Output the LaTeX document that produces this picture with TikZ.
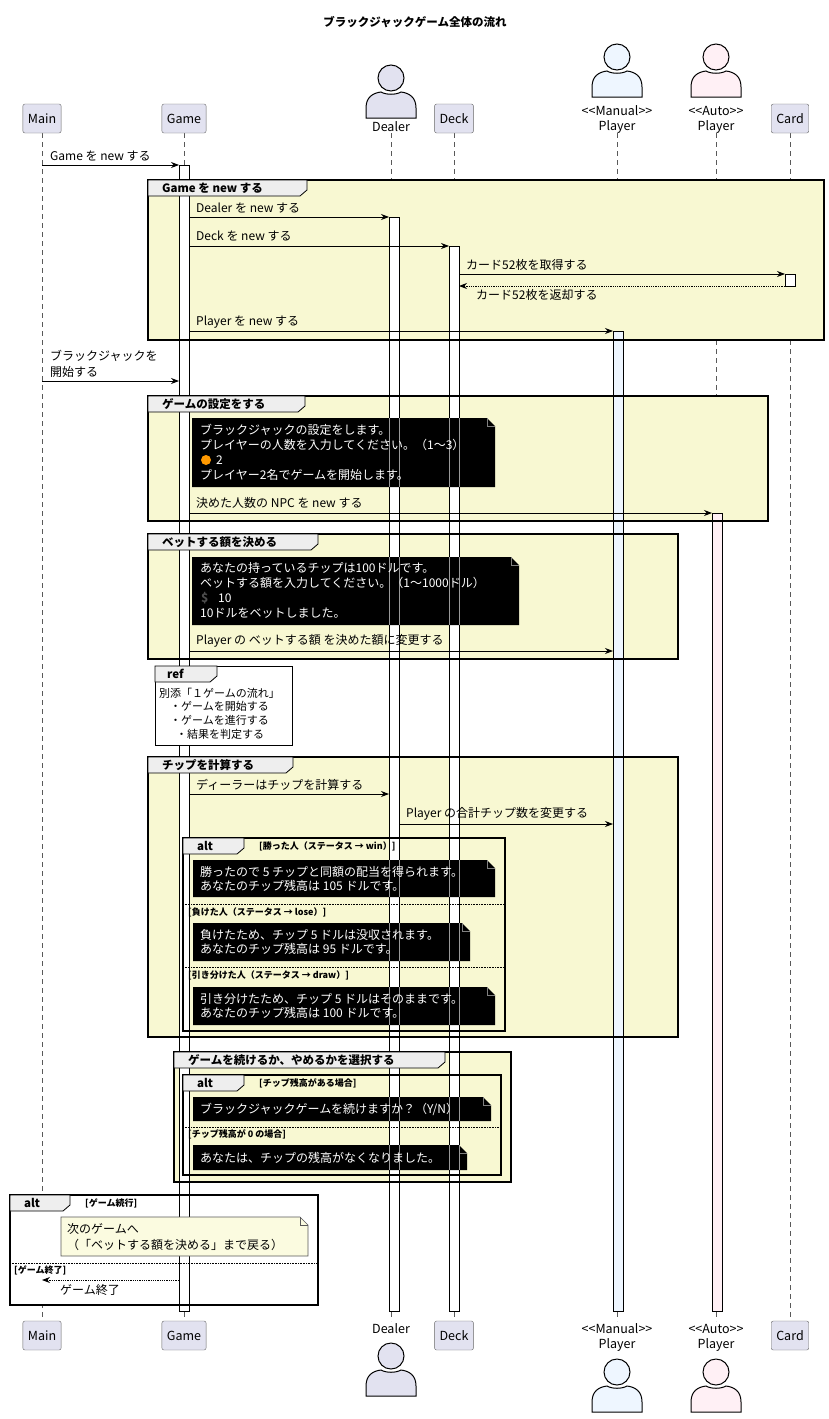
\documentclass[tikz,border=0pt]{standalone}
\usepackage{fontspec}
\setmainfont{Noto Sans CJK JP}
\usetikzlibrary{arrows.meta}
\definecolor{pbox}{HTML}{E2E2F0}
\definecolor{frm}{HTML}{F8F8D2}
\definecolor{tab}{HTML}{EEEEEE}
\definecolor{mblue}{HTML}{EEF6FF}
\definecolor{apink}{HTML}{FFF0F5}
\definecolor{nyel}{HTML}{FBFBE0}
\newcommand\bnote[4]{\fill[black] (#1,#2) -- (#3-8,#2) -- (#3,#2+8) -- (#3,#4) -- (#1,#4) -- cycle;
  \draw[gray,line width=.4pt] (#3-8,#2) -- (#3-8,#2+8) -- (#3,#2+8);}
\newcommand\frbg[5]{\fill[#5] (#1,#2) rectangle (#3,#4);}
\newcommand\frfg[6]{% x1 y1 x2 y2 tabx2 label
  \draw[line width=1.3pt] (#1,#2) rectangle (#3,#4);
  \draw[line width=.8pt,fill=tab] (#1,#2) -- (#5,#2) -- (#5,#2+10) -- (#5-7,#2+16) -- (#1,#2+16) -- cycle;
  \node[anchor=west,font=\bfseries\fontsize{11.5}{13}\selectfont,inner sep=0] at (#1+14,#2+8) {#6};}
\newcommand\guard[3]{\node[anchor=west,font=\bfseries\fontsize{9}{10}\selectfont,inner sep=0] at (#1,#2) {#3};}
\tikzset{msg/.style={-{Stealth[length=8pt,width=6pt]},line width=.8pt},
 ret/.style={msg,densely dotted},
 lbl/.style={anchor=west,inner sep=0,font=\fontsize{12}{14}\selectfont},
 wt/.style={lbl,text=white},
 pb/.style={draw=gray!80!black,fill=pbox,rounded corners=2pt,minimum height=29pt,inner xsep=5pt,font=\fontsize{12.5}{14}\selectfont},
 act/.style={draw,fill=white,line width=.7pt},
 ll/.style={gray!70!black,dash pattern=on 5pt off 4pt,line width=.6pt}}
\newcommand\actor[3]{% x headcy fill
  \draw[line width=1pt,fill=#3] (#1,#2) circle (13pt);
  \draw[line width=1pt,fill=#3] (#1-25,#2+40) -- (#1-25,#2+30) .. controls (#1-25,#2+19) and (#1-18,#2+15) .. (#1-10,#2+14) .. controls (#1-5,#2+17) and (#1+5,#2+17) .. (#1+10,#2+14) .. controls (#1+18,#2+15) and (#1+25,#2+19) .. (#1+25,#2+30) -- (#1+25,#2+40) -- cycle;}
\begin{document}
\begin{tikzpicture}[x=1pt,y=-1pt]
\useasboundingbox[fill=white] (0,0) rectangle (829,1419);
\node[font=\bfseries\fontsize{11.5}{13}\selectfont] (title) at (415,22) {ブラックジャックゲーム全体の流れ};
% lifelines
\foreach \x in {42,184,391,454,617,716,790} \draw[ll] (\x,133) -- (\x,1321);
% frame backgrounds
\frbg{148}{180}{824}{340}{frm}
\frbg{148}{396}{768}{521}{frm}
\frbg{148}{534}{678}{659}{frm}
\frbg{148}{757}{678}{1037}{frm}
\frbg{174}{1052}{511}{1182}{frm}
\frbg{10}{1195}{318}{1305}{white}
% activation bars
\draw[act] (179,165) rectangle (189,1311);
\draw[act] (389,217) rectangle (399,1311);
\draw[act] (449,246) rectangle (459,1311);
\draw[act] (785,274) rectangle (795,286);
\draw[act,fill=mblue] (613,331) rectangle (623,1311);
\draw[act,fill=apink] (712,513) rectangle (722,1311);
% notes
\bnote{192}{418}{495}{487}
\bnote{192}{557}{519}{625}
\bnote{193}{860}{495}{897}
\bnote{193}{923}{470}{961}
\bnote{193}{987}{495}{1025}
\bnote{193}{1097}{491}{1121}
\bnote{193}{1145}{467}{1170}
% bar outlines over notes
\foreach \a/\b in {418/487,557/625,860/897,923/961,987/1025,1097/1121,1145/1170}{
  \draw[gray!80,line width=.7pt] (389,\a) -- (389,\b) (399,\a) -- (399,\b) (449,\a) -- (449,\b) (459,\a) -- (459,\b);}
\node[wt] at (200,430) {ブラックジャックの設定をします。};
\node[wt] at (200,445) {プレイヤーの人数を入力してください。（1〜3）};
\fill[orange!80!yellow] (206,460) circle (5pt);
\node[wt] at (216,460) {2};
\node[wt] at (200,475) {プレイヤー2名でゲームを開始します。};
\node[wt] at (200,568) {あなたの持っているチップは100ドルです。};
\node[wt] at (200,583) {ベットする額を入力してください。（1〜1000ドル）};
\node[lbl,text=gray!60!black,font=\bfseries\fontsize{12}{14}\selectfont] at (201,598) {\$};
\node[wt] at (218,598) {10};
\node[wt] at (200,613) {10ドルをベットしました。};
\node[wt] at (200,872) {勝ったので 5 チップと同額の配当を得られます。};
\node[wt] at (200,886) {あなたのチップ残高は 105 ドルです。};
\node[wt] at (200,935) {負けたため、チップ 5 ドルは没収されます。};
\node[wt] at (200,949) {あなたのチップ残高は 95 ドルです。};
\node[wt] at (200,999) {引き分けたため、チップ 5 ドルはそのままです。};
\node[wt] at (200,1013) {あなたのチップ残高は 100 ドルです。};
\node[wt] at (200,1109) {ブラックジャックゲームを続けますか？（Y/N）};
\node[wt] at (200,1158) {あなたは、チップの残高がなくなりました。};
% frame borders and tabs
\frfg{148}{180}{824}{340}{307}{Game を new する}
\frfg{148}{396}{768}{521}{305}{ゲームの設定をする}
\frfg{148}{534}{678}{659}{318}{ベットする額を決める}
\frfg{148}{757}{678}{1037}{293}{チップを計算する}
\frfg{183}{838}{505}{1031}{244}{alt}
\frfg{174}{1052}{511}{1182}{445}{ゲームを続けるか、やめるかを選択する}
\frfg{183}{1075}{501}{1175}{244}{alt}
\frfg{10}{1195}{318}{1305}{70}{alt}
% guards & separators
\guard{259}{846}{[勝った人（ステータス → win）]}
\draw[densely dotted,line width=.6pt] (183,904) -- (505,904);
\guard{188}{912}{[負けた人（ステータス → lose）]}
\draw[densely dotted,line width=.6pt] (183,967) -- (505,967);
\guard{188}{975}{[引き分けた人（ステータス → draw）]}
\guard{259}{1083}{[チップ残高がある場合]}
\draw[densely dotted,line width=.6pt] (183,1127) -- (501,1127);
\guard{188}{1134}{[チップ残高が 0 の場合]}
\guard{85}{1203}{[ゲーム続行]}
\draw[densely dotted,line width=.6pt] (10,1263) -- (318,1263);
\guard{14}{1270}{[ゲーム終了]}
% ref
\draw[line width=1pt,fill=white] (155,666) rectangle (292,745);
\draw[line width=.8pt,fill=tab] (155,666) -- (217,666) -- (217,676) -- (210,682) -- (155,682) -- cycle;
\node[anchor=west,font=\bfseries\fontsize{11.5}{13}\selectfont,inner sep=0] at (167,674) {ref};
\begin{scope}[every node/.style={anchor=west,inner sep=0,font=\fontsize{11}{12}\selectfont}]
\node at (159,693) {別添「１ゲームの流れ」};
\node at (170,706) {・ゲームを開始する};
\node at (170,720) {・ゲームを進行する};
\node at (176,734) {・結果を判定する};
\end{scope}
% yellow note
\draw[gray!70!black,fill=nyel,line width=.6pt] (61,1217) -- (300,1217) -- (308,1225) -- (308,1256) -- (61,1256) -- cycle;
\draw[gray!70!black,line width=.6pt] (300,1217) -- (300,1225) -- (308,1225);
\node[lbl] at (67,1229) {次のゲームへ};
\node[lbl] at (67,1245) {（「ベットする額を決める」まで戻る）};
% messages
\draw[msg] (42,165) -- (179,165); \node[lbl] at (50,156) {Game を new する};
\draw[msg] (189,217) -- (389,217); \node[lbl] at (196,208) {Dealer を new する};
\draw[msg] (189,246) -- (449,246); \node[lbl] at (196,236) {Deck を new する};
\draw[msg] (459,274) -- (785,274); \node[lbl] at (466,265) {カード52枚を取得する};
\draw[ret] (785,286) -- (459,286); \node[lbl] at (476,295) {カード52枚を返却する};
\draw[msg] (189,331) -- (613,331); \node[lbl] at (196,322) {Player を new する};
\draw[msg] (42,381) -- (179,381); \node[lbl] at (50,356) {ブラックジャックを}; \node[lbl] at (50,372) {開始する};
\draw[msg] (189,513) -- (712,513); \node[lbl] at (196,503) {決めた人数の NPC を new する};
\draw[msg] (189,651) -- (613,651); \node[lbl] at (196,641) {Player の ベットする額 を決めた額に変更する};
\draw[msg] (189,794) -- (389,794); \node[lbl] at (196,785) {ディーラーはチップを計算する};
\draw[msg] (399,824) -- (613,824); \node[lbl] at (406,814) {Player の合計チップ数を変更する};
\draw[ret] (179,1280) -- (42,1280); \node[lbl] at (60,1290) {ゲーム終了};
% participants
\foreach \n/\x/\t in {Main/42/Main,Game/184/Game,Deck/454/Deck,Card/790/Card}{
  \node[pb] (\n top) at (\x,118.5) {\t};
  \node[pb] (\n bot) at (\x,1335.5) {\t};}
\begin{scope}[every node/.style={font=\fontsize{12.5}{14}\selectfont,inner sep=0}]
\actor{391}{78}{pbox}
\node (dealertop) at (391,127) {Dealer};
\actor{617}{57}{mblue}
\node (mantop1) at (617,111) {{<}{<}Manual{>}{>}}; \node (mantop2) at (617,127) {Player};
\actor{716}{57}{apink}
\node (autotop1) at (716,111) {{<}{<}Auto{>}{>}}; \node (autotop2) at (716,127) {Player};
\node (dealerbot) at (391,1329) {Dealer};
\actor{391}{1356}{pbox}
\node (manbot1) at (617,1329) {{<}{<}Manual{>}{>}}; \node (manbot2) at (617,1345) {Player};
\actor{617}{1372}{mblue}
\node (autobot1) at (716,1329) {{<}{<}Auto{>}{>}}; \node (autobot2) at (716,1345) {Player};
\actor{716}{1372}{apink}
\end{scope}
\end{tikzpicture}
\end{document}
